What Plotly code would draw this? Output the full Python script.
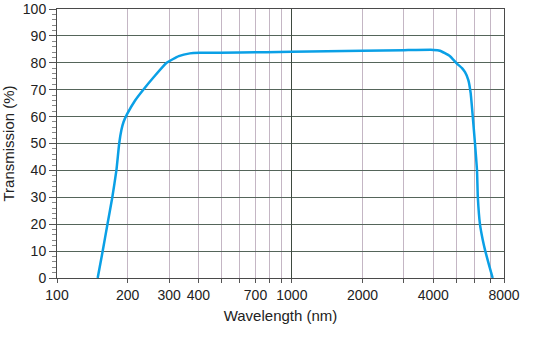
import plotly.graph_objects as go

# Transmission curve (wavelength nm, transmission %)
wavelength = [149, 156.5, 164, 172, 179, 184, 188, 192, 199, 215, 233, 260, 293, 330, 368, 406,
              600, 1000, 2000, 3000, 4000, 4270, 4700, 5030, 5300, 5460, 5640, 5770, 5890, 6020, 6140,
              6190, 6320, 6500, 6660, 6900, 7160]
transmission = [0, 10, 20, 30, 40, 50, 55, 58, 61, 66, 70, 75, 80, 82.5, 83.5, 83.7,
                83.8, 84.1, 84.5, 84.7, 84.8, 84.5, 82.5, 79.8, 78.0, 76.5, 73.6, 68.7, 60, 50, 40,
                30, 20, 14, 10, 5, 0]

x_gridvals = [100, 200, 300, 400, 500, 600, 700, 800, 900, 1000, 2000, 3000, 4000, 5000, 6000, 7000, 8000]
x_ticklabels = ["100", "200", "300", "400", "", "", "700", "", "", "1000", "2000", "", "4000", "", "", "", "8000"]
y_ticks = [0, 10, 20, 30, 40, 50, 60, 70, 80, 90, 100]

font_family = "Liberation Sans, Arial, sans-serif"

fig = go.Figure()
fig.add_trace(go.Scatter(x=wavelength, y=transmission, mode="lines",
                         line=dict(color="#0aa0e6", width=2.5, shape="spline", smoothing=0.4),
                         hoverinfo="skip", showlegend=False))
# invisible trace on overlay axis to draw the dark 1000 nm grid line
fig.add_trace(go.Scatter(x=[100, 8000], y=[0, 0], xaxis="x2", mode="lines",
                         line=dict(width=0), hoverinfo="skip", showlegend=False, opacity=0))

fig.update_layout(
    width=536, height=344,
    margin=dict(l=57, r=32, t=9, b=66, autoexpand=False),
    paper_bgcolor="white", plot_bgcolor="white",
    font=dict(family=font_family, size=14, color="#222"),
    xaxis=dict(type="log", range=[2, 3.90309], tickvals=x_gridvals, ticktext=x_ticklabels,
               showgrid=True, gridcolor="#c4b6c4", gridwidth=1, automargin=False,
               ticks="outside", ticklen=4, tickcolor="#555", tickwidth=1,
               showline=True, linecolor="#4a4a4a", linewidth=1, mirror=True,
               zeroline=False,
               title=dict(text="Wavelength (nm)", font=dict(size=15, family=font_family), standoff=8),
               tickfont=dict(size=14, family=font_family)),
    xaxis2=dict(type="log", range=[2, 3.90309], overlaying="x", tickvals=[1000], automargin=False,
                showgrid=True, gridcolor="#3e4a40", gridwidth=1, showticklabels=False,
                ticks="", showline=False, zeroline=False, layer="below traces"),
    yaxis=dict(range=[0, 100], tickvals=y_ticks, showgrid=True, gridcolor="#55655a", gridwidth=1.4,
               automargin=False,
               ticks="outside", ticklen=7, tickcolor="#555", tickwidth=1,
               minor=dict(dtick=2, ticks="outside", ticklen=4, tickcolor="#888", showgrid=False),
               showline=True, linecolor="#4a4a4a", linewidth=1, mirror=True,
               zeroline=False,
               title=dict(text="Transmission (%)", font=dict(size=15, family=font_family), standoff=4),
               tickfont=dict(size=14, family=font_family)),
)

fig.write_html("out.html")
